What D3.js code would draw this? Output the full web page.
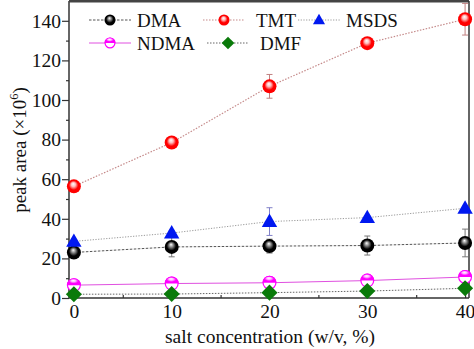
<!DOCTYPE html>
<html>
<head>
<meta charset="utf-8">
<script src="https://cdn.jsdelivr.net/npm/d3@7"></script>
<style>
  body { margin: 0; background: #fff; }
</style>
</head>
<body>
<svg id="display" width="474" height="349"></svg>
<script>
'use strict';
//data
var SALT = [0, 10, 20, 30, 40];
var DMA = [23.0, 25.8, 26.2, 26.5, 27.8];
var DMA_ERR = [1.5, 5.0, 3.5, 4.8, 7.0];
var TMT = [56.4, 78.5, 106.9, 128.7, 140.8];
var TMT_ERR = [1.2, 1.0, 6.0, 1.5, 8.0];
var MSDS = [28.6, 32.8, 38.6, 40.6, 45.3];
var MSDS_ERR = [1.0, 1.0, 7.0, 1.0, 1.0];
var NDMA = [6.5, 7.3, 7.7, 8.8, 10.6];
var NDMA_ERR = [0.5, 0.5, 0.5, 0.5, 0.5];
var DMF = [1.9, 2.0, 2.7, 3.5, 4.9];
var DMF_ERR = [0.4, 0.4, 0.4, 0.4, 0.4];
var X_TICKS = [0, 10, 20, 30, 40];
var Y_TICKS = [0, 20, 40, 60, 80, 100, 120, 140];

var WIDTH = 474;
var HEIGHT = 349;
var MARGINS = { top: 1, right: 5, bottom: 51, left: 69 };
var FONT = "'Liberation Serif', 'Times New Roman', 'DejaVu Serif', serif";

var svg = d3.select('#display');
var x = d3.scaleLinear().domain([-0.5, 40.4]).range([MARGINS.left, WIDTH - MARGINS.right]);
var y = d3.scaleLinear().domain([0, 150]).range([HEIGHT - MARGINS.bottom, MARGINS.top]);

var SERIES = [
  { name: 'DMA', values: DMA, err: DMA_ERR, color: '#000', line: '#555', dash: '2.5,1.5', errColor: '#777', marker: 'ball', width: 1 },
  { name: 'TMT', values: TMT, err: TMT_ERR, color: '#f00', line: '#c58a8a', dash: '1.5,1.5', errColor: '#c08080', marker: 'ball', width: 1.2 },
  { name: 'MSDS', values: MSDS, err: MSDS_ERR, color: '#0018f0', line: '#999', dash: '1.2,1.5', errColor: '#8080c8', marker: 'triangle', width: 1 },
  { name: 'NDMA', values: NDMA, err: NDMA_ERR, color: '#f0f', line: '#e050e0', dash: null, errColor: '#e080e0', marker: 'half', width: 1 },
  { name: 'DMF', values: DMF, err: DMF_ERR, color: '#0a7a0a', line: '#666', dash: '1.5,1.5', errColor: '#888', marker: 'diamond', width: 1 }
];

//gradients for the shaded balls
var defs = svg.append('defs');
[['ballDMA', '#000', '#888'], ['ballTMT', '#f00', '#fbb'], ['ballNDMA', '#f0f', '#fbf']].forEach(function(g) {
  var grad = defs.append('radialGradient')
    .attr('id', g[0])
    .attr('cx', '0.5').attr('cy', '0.5').attr('r', '0.55')
    .attr('fx', '0.45').attr('fy', '0.32');
  grad.append('stop').attr('offset', '0').attr('stop-color', '#fff');
  grad.append('stop').attr('offset', '0.28').attr('stop-color', g[2]);
  grad.append('stop').attr('offset', '0.6').attr('stop-color', g[1]);
  grad.append('stop').attr('offset', '1').attr('stop-color', g[1]);
});

//axes
var bottom = HEIGHT - MARGINS.bottom;
var xAxis = d3.axisBottom(x).tickValues(X_TICKS).tickSize(-6).tickPadding(6).tickFormat(d3.format('d'));
var xMinor = d3.axisBottom(x).tickValues([5, 15, 25, 35]).tickSize(-3).tickFormat('');
var yAxis = d3.axisLeft(y).tickValues(Y_TICKS).tickSize(7).tickPadding(1).tickFormat(d3.format('d'));
var yMinor = d3.axisLeft(y).tickValues([10, 30, 50, 70, 90, 110, 130]).tickSize(3).tickFormat('');

function styleAxis(g) {
  g.select('.domain').remove();
  g.attr('font-family', null).attr('font-size', null);
  g.selectAll('line').attr('stroke', '#333').attr('stroke-width', 1.2);
  g.selectAll('text')
    .style('font-family', FONT)
    .style('font-size', '19.5px')
    .attr('fill', '#111');
}

svg.append('g').attr('transform', 'translate(0,' + bottom + ')').call(xAxis).call(styleAxis);
svg.append('g').attr('transform', 'translate(0,' + bottom + ')').call(xMinor).call(styleAxis);
svg.append('g').attr('transform', 'translate(' + MARGINS.left + ',0)').call(yAxis).call(styleAxis);
svg.append('g').attr('transform', 'translate(' + MARGINS.left + ',0)').call(yMinor).call(styleAxis);

//frame
svg.append('line')
  .attr('x1', MARGINS.left).attr('x2', WIDTH - MARGINS.right)
  .attr('y1', bottom).attr('y2', bottom)
  .attr('stroke', '#333').attr('stroke-width', 1.5);
svg.append('line')
  .attr('x1', MARGINS.left).attr('x2', MARGINS.left)
  .attr('y1', MARGINS.top).attr('y2', bottom)
  .attr('stroke', '#333').attr('stroke-width', 1.5);
svg.append('line')
  .attr('x1', MARGINS.left).attr('x2', WIDTH - MARGINS.right)
  .attr('y1', 1).attr('y2', 1)
  .attr('stroke', '#444').attr('stroke-width', 3);
svg.append('line')
  .attr('x1', WIDTH - MARGINS.right).attr('x2', WIDTH - MARGINS.right)
  .attr('y1', MARGINS.top).attr('y2', bottom)
  .attr('stroke', '#333').attr('stroke-width', 1.5);

//axis titles
svg.append('text')
  .attr('x', 270).attr('y', 343)
  .attr('text-anchor', 'middle')
  .style('font-family', FONT)
  .style('font-size', '19.5px')
  .attr('fill', '#111')
  .text('salt concentration (w/v, %)');

var yTitle = svg.append('text')
  .attr('transform', 'translate(26,150) rotate(-90)')
  .attr('text-anchor', 'middle')
  .style('font-family', FONT)
  .style('font-size', '19px')
  .attr('fill', '#111');
yTitle.append('tspan').text('peak area (×10');
yTitle.append('tspan').attr('dy', -8).style('font-size', '12.5px').text('6');
yTitle.append('tspan').attr('dy', 8).text(')');

//markers
function drawMarker(g, s, cx, cy, r) {
  if (s.marker === 'ball') {
    g.append('circle').attr('cx', cx).attr('cy', cy).attr('r', r)
      .attr('fill', 'url(#ball' + s.name + ')');
  } else if (s.marker === 'triangle') {
    var h = r * 1.9;
    g.append('path')
      .attr('d', 'M' + cx + ',' + (cy - h * 0.6) + 'L' + (cx + r * 1.1) + ',' + (cy + h * 0.4) +
        'L' + (cx - r * 1.1) + ',' + (cy + h * 0.4) + 'Z')
      .attr('fill', s.color);
  } else if (s.marker === 'diamond') {
    g.append('path')
      .attr('d', 'M' + cx + ',' + (cy - r * 1.15) + 'L' + (cx + r * 1.15) + ',' + cy +
        'L' + cx + ',' + (cy + r * 1.15) + 'L' + (cx - r * 1.15) + ',' + cy + 'Z')
      .attr('fill', s.color);
  } else if (s.marker === 'half') {
    var arc = d3.arc().innerRadius(0).outerRadius(r);
    g.append('circle').attr('cx', cx).attr('cy', cy).attr('r', r - 0.6)
      .attr('fill', '#fff').attr('stroke', s.color).attr('stroke-width', 1.2);
    g.append('path')
      .attr('transform', 'translate(' + cx + ',' + cy + ')')
      .attr('d', arc({ startAngle: -Math.PI / 2, endAngle: Math.PI / 2 }))
      .attr('fill', 'url(#ballNDMA)');
  }
}

var line = d3.line()
  .x(function(d) { return x(d[0]); })
  .y(function(d) { return y(d[1]); });

SERIES.forEach(function(s) {
  var pts = SALT.map(function(v, i) { return [v, s.values[i], s.err[i]]; });
  var g = svg.append('g').attr('class', s.name);

  g.append('path')
    .attr('d', line(pts))
    .attr('fill', 'none')
    .attr('stroke', s.line)
    .attr('stroke-width', s.width)
    .attr('stroke-dasharray', s.dash);

  //error bars
  pts.forEach(function(p) {
    var cx = x(p[0]);
    var top = y(p[1] + p[2]);
    var low = y(p[1] - p[2]);
    g.append('line').attr('x1', cx).attr('x2', cx).attr('y1', top).attr('y2', low)
      .attr('stroke', s.errColor).attr('stroke-width', 1);
    [top, low].forEach(function(c) {
      g.append('line').attr('x1', cx - 3).attr('x2', cx + 3).attr('y1', c).attr('y2', c)
        .attr('stroke', s.errColor).attr('stroke-width', 1);
    });
  });

  pts.forEach(function(p) {
    drawMarker(g, s, x(p[0]), y(p[1]), 7);
  });
});

//legend
var LEGEND_POS = [[110, 20], [224, 20], [319, 20], [110, 43], [228, 43]];
SERIES.forEach(function(s, i) {
  var lx = LEGEND_POS[i][0];
  var ly = LEGEND_POS[i][1];
  var g = svg.append('g').attr('class', 'legend');
  g.append('line')
    .attr('x1', lx - 21).attr('x2', lx + 21)
    .attr('y1', ly).attr('y2', ly)
    .attr('stroke', s.line)
    .attr('stroke-width', s.width)
    .attr('stroke-dasharray', s.dash);
  drawMarker(g, s, lx, ly, 5.5);
  g.append('text')
    .attr('x', lx + (i === 1 || i === 4 ? 32 : 27))
    .attr('y', ly + 6.5)
    .style('font-family', FONT)
    .style('font-size', '19px')
    .attr('fill', '#111')
    .text(s.name);
});
</script>
</body>
</html>
